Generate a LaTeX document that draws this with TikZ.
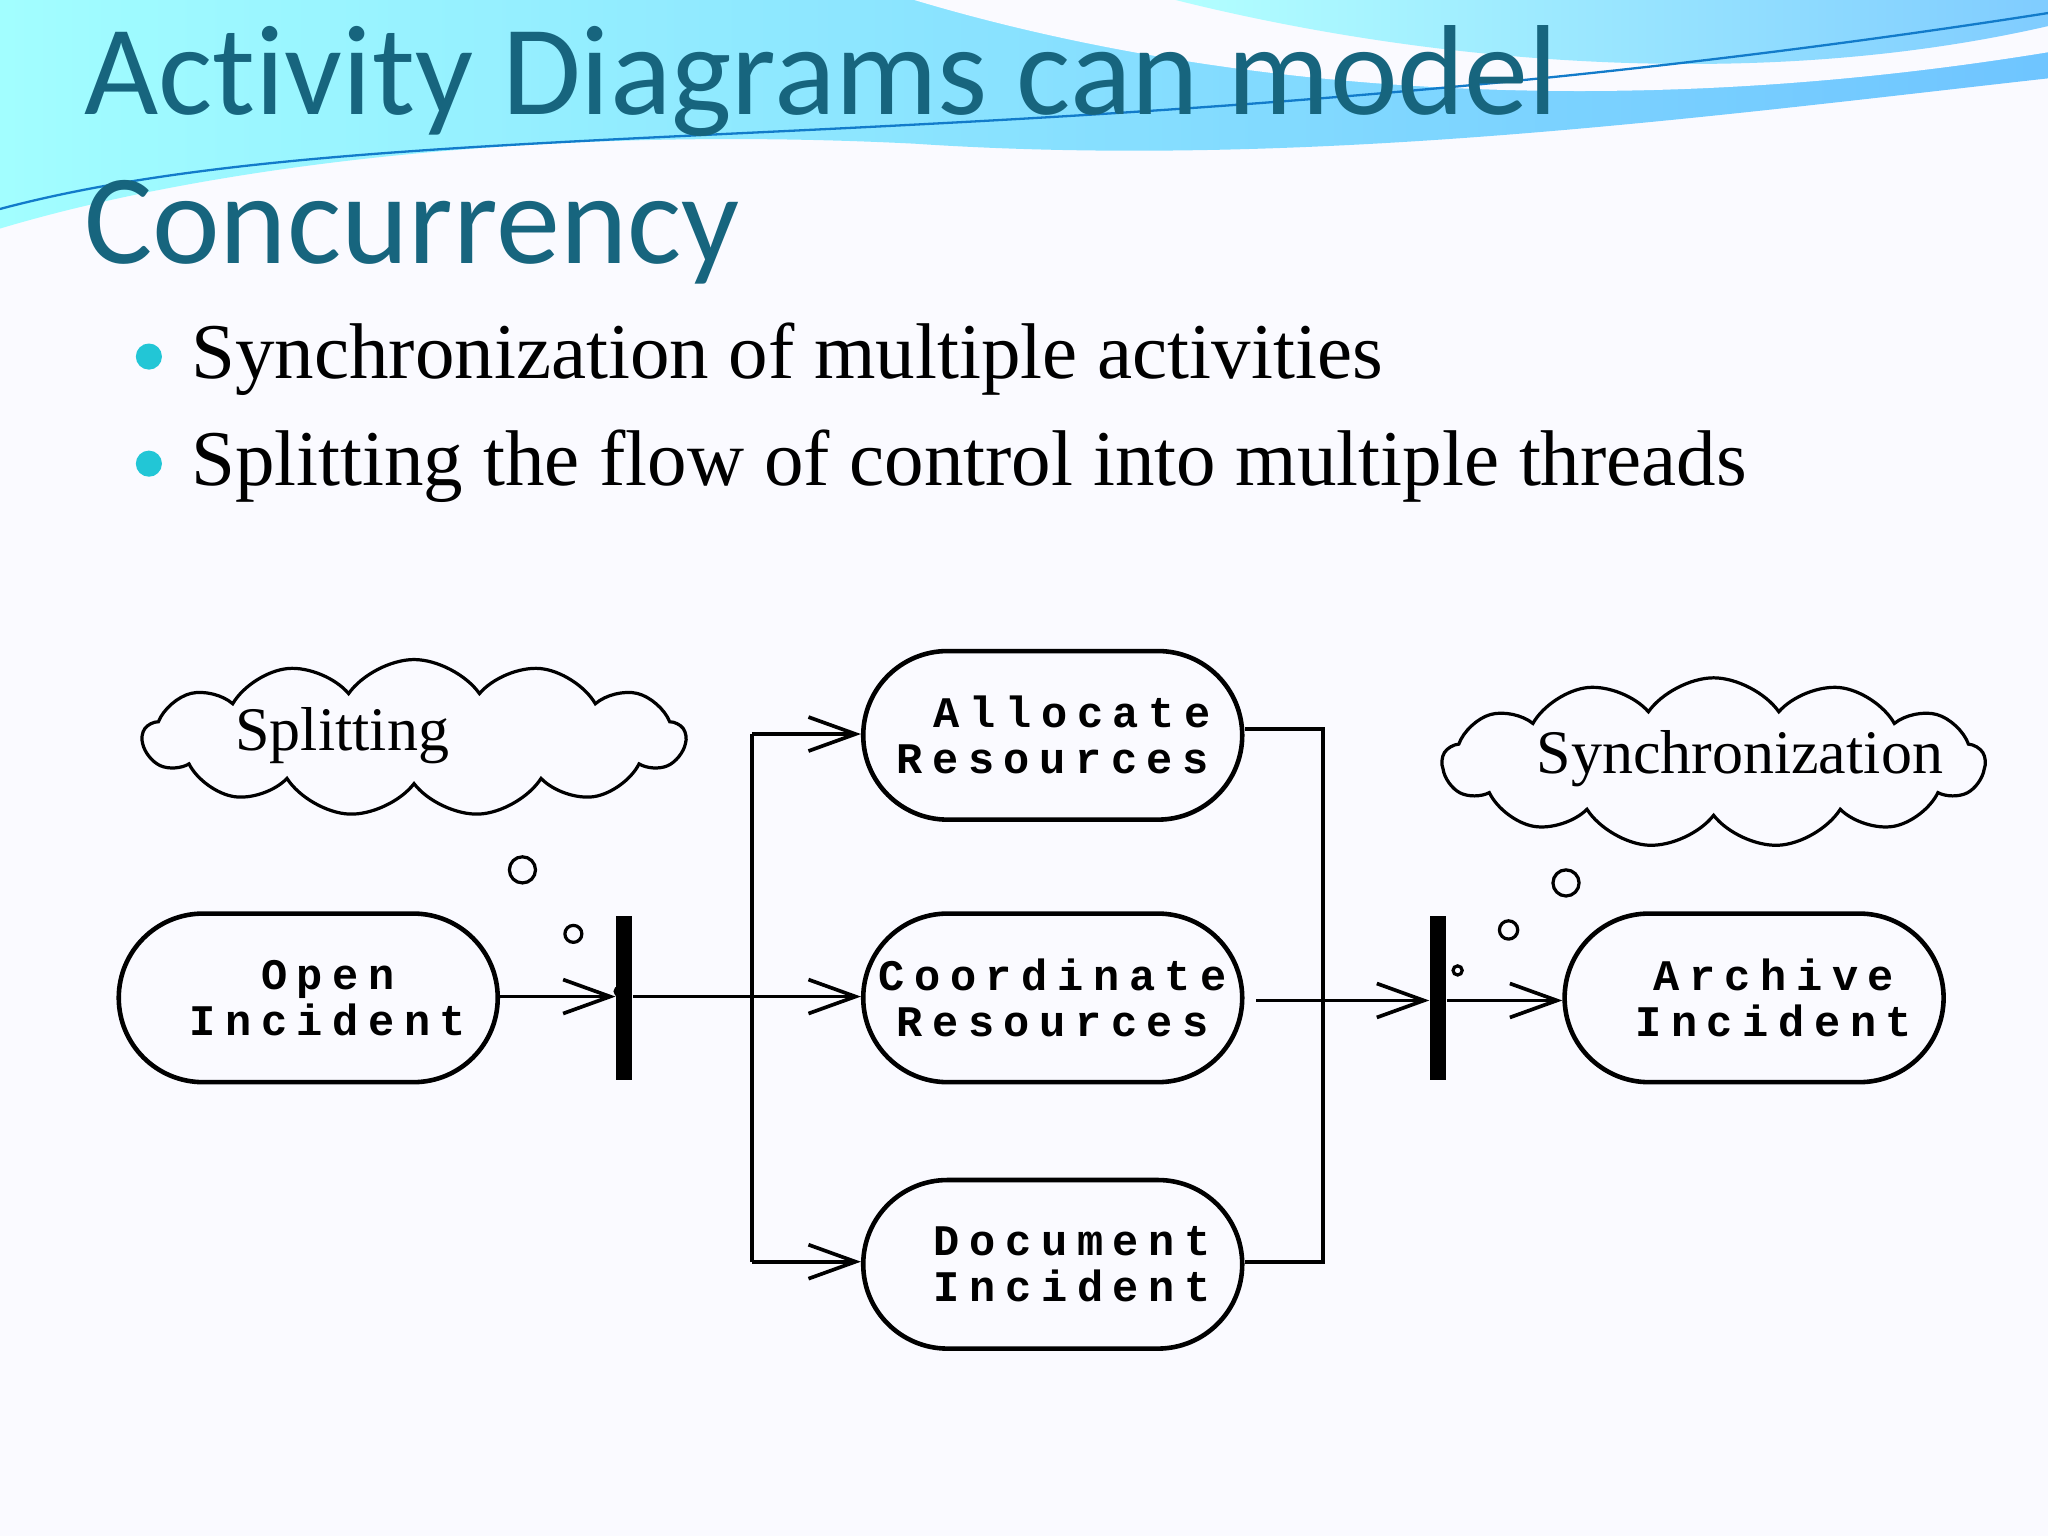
\documentclass[tikz,border=0pt]{standalone}
\usepackage{fontspec}
\setmainfont{Liberation Serif}
\newfontfamily\titlefont[Ligatures=NoCommon]{Carlito}
\newfontfamily\boxfont[LetterSpace=22]{Liberation Mono}
\usetikzlibrary{arrows.meta,shapes.symbols,shapes.misc}
\definecolor{titleblue}{HTML}{17657E}
\definecolor{bulletc}{HTML}{22C6D6}
\begin{document}
\begin{tikzpicture}[x=0.01cm,y=-0.01cm,
  act/.style={draw,line width=1pt,rounded rectangle,minimum width=2.9cm,minimum height=1.29cm,inner sep=0pt,align=center,font=\boxfont\fontsize{9.5pt}{10pt}\selectfont\bfseries},
  flow/.style={line width=0.8pt,-{Straight Barb[length=0.36cm,width=0.26cm,line width=0.8pt]}},
  ln/.style={line width=0.8pt},
  bar/.style={fill=black,minimum width=0.12cm,minimum height=1.25cm,inner sep=0pt},
  cloudy/.style={draw,line width=0.7pt,cloud,cloud puffs=13,cloud puff arc=110,aspect=3.4,inner sep=0pt},
  bub/.style={draw,line width=0.7pt,circle,inner sep=0pt}]
\useasboundingbox (0,0) rectangle (1568,1176);
\fill[white!98!blue] (0,0) rectangle (1568,1176);
% top swoosh
\shade[left color=cyan!45!white,right color=blue!40!cyan!70!white,opacity=0.8]
  (0,0) -- (1568,0) -- (1568,60) .. controls (1300,90) and (1000,130) .. (700,110)
  .. controls (400,95) and (150,130) .. (0,175) -- cycle;
\fill[white!98!blue] (700,0) .. controls (900,60) and (1200,100) .. (1568,40) -- (1568,0) -- cycle;
\shade[left color=cyan!30!white,right color=cyan!60!blue!50!white] (900,0) .. controls (1100,50) and (1350,70) .. (1568,20) -- (1568,0) -- cycle;
\draw[cyan!60!blue,line width=0.5pt] (0,160) .. controls (300,80) and (800,130) .. (1568,10);
\node[anchor=west,text=titleblue,font=\titlefont\fontsize{27.9pt}{32pt}\selectfont] (t1) at (52,62) {Activity Diagrams can model};
\node[anchor=west,text=titleblue,font=\titlefont\fontsize{27.9pt}{32pt}\selectfont] (t2) at (52,178) {Concurrency};
\fill[bulletc] (114,273) circle (10);
\fill[bulletc] (114,355) circle (10);
\node[anchor=west,font=\fontsize{17.2pt}{20pt}\selectfont] (b1) at (134,275) {Synchronization of multiple activities};
\node[anchor=west,font=\fontsize{17.2pt}{20pt}\selectfont] (b2) at (134,357) {Splitting the flow of control into multiple threads};
% clouds
\node[cloudy,minimum width=4.15cm,minimum height=1.2cm] (c1) at (317,565) {};
\node[font=\fontsize{13.5pt}{14pt}\selectfont] (c1t) at (262,563) {Splitting};
\node[cloudy,minimum width=4.15cm,minimum height=1.3cm] (c2) at (1312,584) {};
\node[font=\fontsize{13.5pt}{14pt}\selectfont] (c2t) at (1332,581) {Synchronization};
\node[bub,minimum size=0.2cm] (o1) at (400,666) {};
\node[bub,minimum size=0.13cm] (o2) at (439,715) {};
\node[bub,minimum size=0.2cm] (o3) at (1199,676) {};
\node[bub,minimum size=0.14cm] (o4) at (1155,712) {};
% activities
\node[act] (open) at (236,764) {\hspace*{0.3cm}Open\\ \hspace*{0.3cm}Incident};
\node[act] (alloc) at (806,563) {\hspace*{0.3cm}Allocate\\Resources};
\node[act] (coord) at (806,764) {Coordinate\\Resources};
\node[act] (doc) at (806,968) {\hspace*{0.3cm}Document\\\hspace*{0.3cm}Incident};
\node[act] (arch) at (1343,764) {\hspace*{0.3cm}Archive\\\hspace*{0.3cm}Incident};
\node[bar] (f1) at (478,764) {};
\node[bar] (f2) at (1101,764) {};
\node[bub,minimum size=0.06cm] (s1) at (474,759) {};
\node[bub,minimum size=0.07cm] (s2) at (1116,743) {};
\coordinate (sp) at (576,763);
\coordinate (sa) at (576,562);
\coordinate (sd) at (576,966);
\coordinate (ja) at (1013,558);
\coordinate (jd) at (1013,966);
\draw[flow] (open.east |- 0,763) -- (f1.west |- 0,763);
\draw[ln] (f1.east |- 0,763) -- (sp);
\draw[ln] (sa) -- (sd);
\draw[flow] (sa) -- (alloc.west |- sa);
\draw[flow] (sp) -- (coord.west |- sp);
\draw[flow] (sd) -- (doc.west |- sd);
\draw[ln] (alloc.east |- ja) -- (ja) -- (jd) -- (doc.east |- jd);
\draw[flow] (962,766) -- (f2.west |- 0,766);
\draw[flow] (f2.east |- 0,766) -- (arch.west |- 0,766);
\end{tikzpicture}
\end{document}
